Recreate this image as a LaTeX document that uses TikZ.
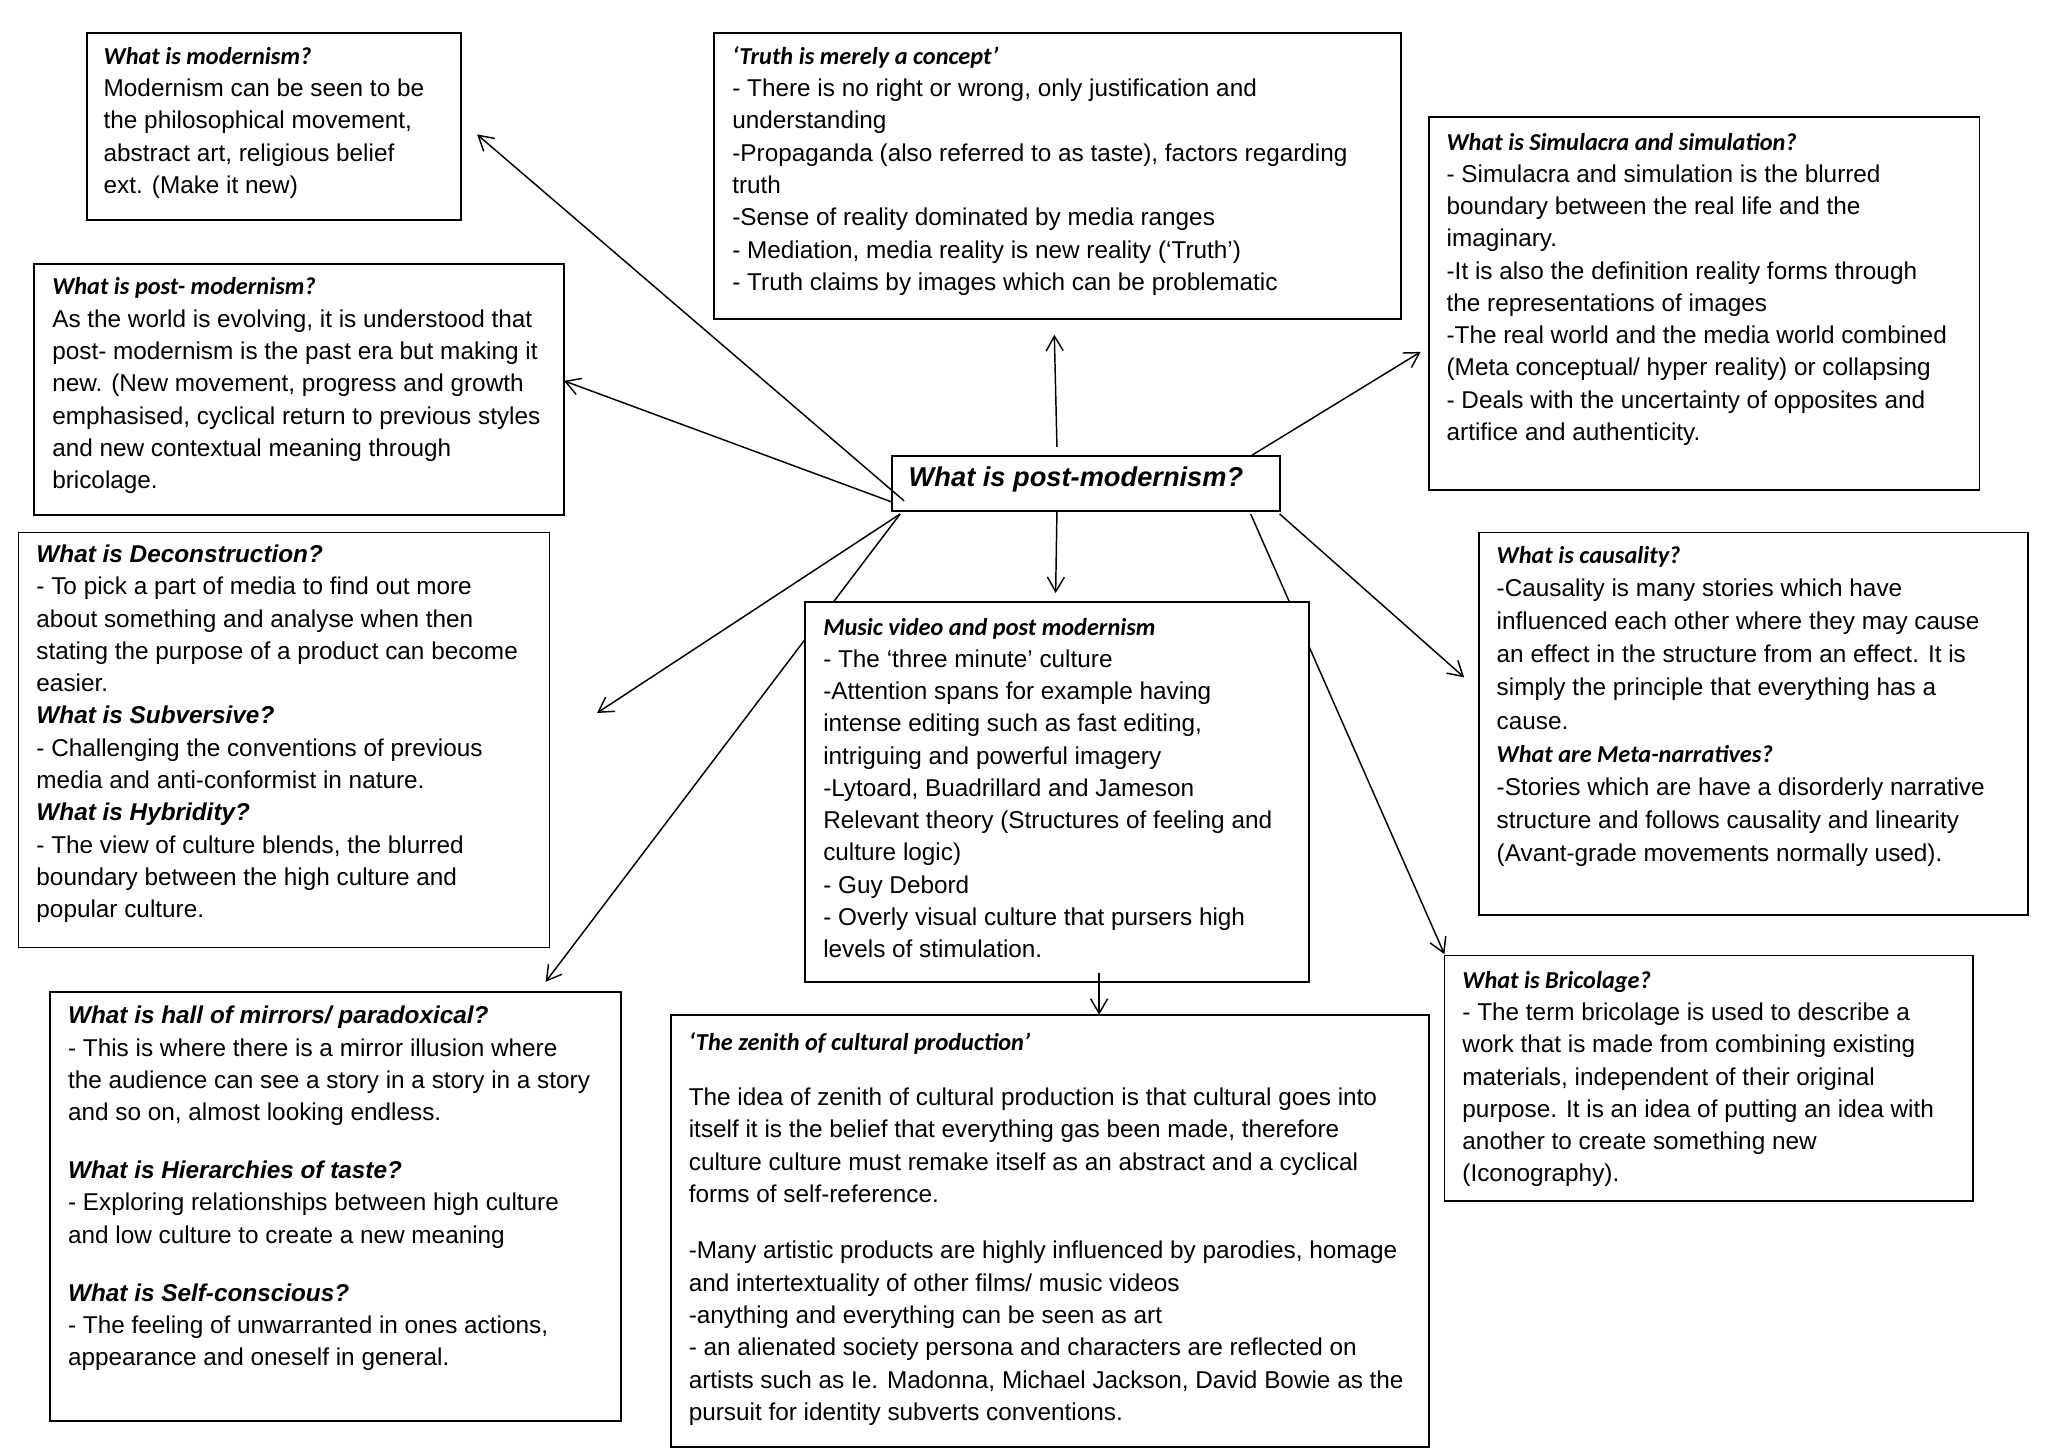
\documentclass[tikz,border=0pt]{standalone}
\usepackage{fontspec}
\setmainfont{Liberation Sans}
\newfontfamily\hdfont{Carlito}
\usetikzlibrary{arrows.meta,calc,fit}
\pgfdeclarelayer{bg}
\pgfdeclarelayer{paper}
\pgfsetlayers{paper,bg,main}
\newcommand\hcal[1]{{\hdfont\bfseries\itshape #1}}
\newcommand\harial[1]{{\bfseries\itshape #1}}
\begin{document}
\begin{tikzpicture}[x=0.5418pt,y=-0.5418pt,
  box/.style={draw=black,line width=0.75pt,fill=white,inner sep=0pt},
  txt/.style={anchor=north west,inner sep=0pt,align=left,font=\fontsize{10}{13.27}\selectfont},
  arr/.style={line width=0.6pt,-{Straight Barb[length=6pt,width=7pt,line width=0.6pt]}}]
\begin{pgfonlayer}{paper}
\fill[white] (0,0) rectangle (1554,1099);
\end{pgfonlayer}
\useasboundingbox (0,0) rectangle (1554,1099);

% boxes
\node[box,fit={(66,25) (350,167)}] (mod) {};
\node[txt] (modT) at ($(mod.north west)+(13,7)$) {\strut\hcal{What is modernism?}\\
Modernism can be seen to be\\
the philosophical movement,\\
abstract art, religious belief\\
ext. (Make it new)};

\node[box,fit={(26,200) (428,391)}] (pmod) {};
\node[txt] (pmodT) at ($(pmod.north west)+(14,7)$) {\strut\hcal{What is post- modernism?}\\
As the world is evolving, it is understood that\\
post- modernism is the past era but making it\\
new. (New movement, progress and growth\\
emphasised, cyclical return to previous styles\\
and new contextual meaning through\\
bricolage.};

\node[box,fit={(14,404) (417,719)}] (decon) {};
\node[txt] (deconT) at ($(decon.north west)+(14,6)$) {\strut\harial{What is Deconstruction?}\\
- To pick a part of media to find out more\\
about something and analyse when then\\
stating the purpose of a product can become\\
easier.\\
\harial{What is Subversive?}\\
- Challenging the conventions of previous\\
media and anti-conformist in nature.\\
\harial{What is Hybridity?}\\
- The view of culture blends, the blurred\\
boundary between the high culture and\\
popular culture.};

\node[box,fit={(38,753) (471,1078)}] (hall) {};
\node[txt] (hallT) at ($(hall.north west)+(14,7)$) {\strut\harial{What is hall of mirrors/ paradoxical?}\\
- This is where there is a mirror illusion where\\
the audience can see a story in a story in a story\\
and so on, almost looking endless.\\[10.6pt]
\harial{What is Hierarchies of taste?}\\
- Exploring relationships between high culture\\
and low culture to create a new meaning\\[10.6pt]
\harial{What is Self-conscious?}\\
- The feeling of unwarranted in ones actions,\\
appearance and oneself in general.};

\node[box,fit={(542,25) (1063,242)}] (truth) {};
\node[txt] (truthT) at ($(truth.north west)+(14,7)$) {\strut\hcal{‘Truth is merely a concept’}\\
- There is no right or wrong, only justification and\\
understanding\\
-Propaganda (also referred to as taste), factors regarding\\
truth\\
-Sense of reality dominated by media ranges\\
- Mediation, media reality is new reality (‘Truth’)\\
- Truth claims by images which can be problematic};

\node[box,fit={(1084,89) (1502,372)}] (sim) {};
\node[txt] (simT) at ($(sim.north west)+(14,8)$) {\strut\hcal{What is Simulacra and simulation?}\\
- Simulacra and simulation is the blurred\\
boundary between the real life and the\\
imaginary.\\
-It is also the definition reality forms through\\
the representations of images\\
-The real world and the media world combined\\
(Meta conceptual/ hyper reality) or collapsing\\
- Deals with the uncertainty of opposites and\\
artifice and authenticity.};

\node[box,fit={(1122,404) (1539,694)}] (caus) {};
\node[txt,font=\fontsize{10}{13.65}\selectfont] (causT) at ($(caus.north west)+(14,6)$) {\strut\hcal{What is causality?}\\
-Causality is many stories which have\\
influenced each other where they may cause\\
an effect in the structure from an effect. It is\\
simply the principle that everything has a\\
cause.\\
\hcal{What are Meta-narratives?}\\
-Stories which are have a disorderly narrative\\
structure and follows causality and linearity\\
(Avant-grade movements normally used).};

\node[box,fit={(1096,725) (1497,911)}] (bric) {};
\node[txt] (bricT) at ($(bric.north west)+(14,8)$) {\strut\hcal{What is Bricolage?}\\
- The term bricolage is used to describe a\\
work that is made from combining existing\\
materials, independent of their original\\
purpose. It is an idea of putting an idea with\\
another to create something new\\
(Iconography).};

\node[box,fit={(509,770) (1084,1098)}] (zen) {};
\node[txt] (zenT) at ($(zen.north west)+(14,10)$) {\strut\hcal{‘The zenith of cultural production’}\\[9.5pt]
The idea of zenith of cultural production is that cultural goes into\\
itself it is the belief that everything gas been made, therefore\\
culture culture must remake itself as an abstract and a cyclical\\
forms of self-reference.\\[10pt]
-Many artistic products are highly influenced by parodies, homage\\
and intertextuality of other films/ music videos\\
-anything and everything can be seen as art\\
- an alienated society persona and characters are reflected on\\
artists such as Ie. Madonna, Michael Jackson, David Bowie as the\\
pursuit for identity subverts conventions.};

% central box
\node[box,fill=none,line width=0.9pt,fit={(677,346) (971,388)}] (c) {};
\node[anchor=west,inner sep=0pt,font=\fontsize{11.2}{13}\selectfont\bfseries\itshape] (cT) at ($(c.west)+(13,-3)$) {What is post-modernism?};

% music video box (covers two connectors)
\node[box,fit={(611,457) (993,745)}] (music) {};
\node[txt] (musicT) at ($(music.north west)+(14,8)$) {\strut\hcal{Music video and post modernism}\\
- The ‘three minute’ culture\\
-Attention spans for example having\\
intense editing such as fast editing,\\
intriguing and powerful imagery\\
-Lytoard, Buadrillard and Jameson\\
Relevant theory (Structures of feeling and\\
culture logic)\\
- Guy Debord\\
- Overly visual culture that pursers high\\
levels of stimulation.};

% connector end points
\coordinate (s1) at (686,380);
\coordinate (e1) at (362,102);
\coordinate (s2) at (677,381);
\coordinate (e2) at (428,289);
\coordinate (s3) at (683,390);
\coordinate (e3) at (453,541);
\coordinate (e4) at (414,745);
\coordinate (s5) at (802,339);
\coordinate (e5) at (800,254);
\coordinate (s6) at (949,346);
\coordinate (e6) at (1078,267);
\coordinate (s7) at (971,390);
\coordinate (e7) at (1111,514);
\coordinate (s8) at (949,390);
\coordinate (e8) at (1096,724);
\coordinate (s9) at (802,388);
\coordinate (e9) at (801,450);
\coordinate (s10) at (834,738);
\coordinate (e10) at (834,770);

\begin{pgfonlayer}{bg}
\draw[arr] (s3) -- (e4);
\draw[arr] (s8) -- (e8);
\end{pgfonlayer}
\draw[arr] (s1) -- (e1);
\draw[arr] (s2) -- (e2);
\draw[arr] (s3) -- (e3);
\draw[arr] (s5) -- (e5);
\draw[arr] (s6) -- (e6);
\draw[arr] (s7) -- (e7);
\draw[arr] (s9) -- (e9);
\draw[arr] (s10) -- (e10);
\end{tikzpicture}
\end{document}
